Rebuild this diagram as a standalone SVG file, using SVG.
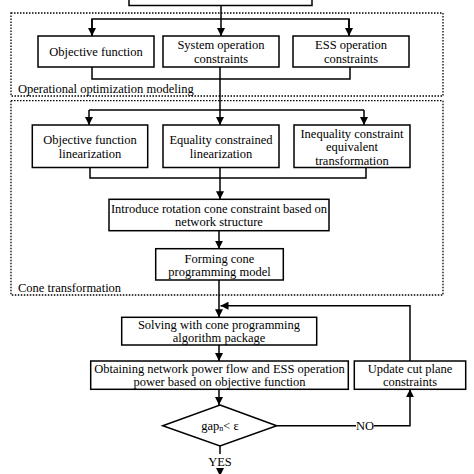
<svg xmlns="http://www.w3.org/2000/svg" width="474" height="474" viewBox="0 0 474 474">
<style>
.box{fill:#fff;stroke:#000;stroke-width:1.5}
.grp{fill:none;stroke:#000;stroke-width:1.3;stroke-dasharray:1.5 1.5}
.ln{fill:none;stroke:#000;stroke-width:1.5}
.arr{fill:none;stroke:#000;stroke-width:1.5;marker-end:url(#ah)}
text{font-family:"Liberation Serif","Times New Roman",serif;font-size:12.5px;fill:#000;text-anchor:middle}
.lbl{text-anchor:start}
</style>
<defs>
<marker id="ah" viewBox="0 0 10 10" refX="10" refY="5" markerWidth="8" markerHeight="8" markerUnits="userSpaceOnUse" orient="auto">
<path d="M0,0 L10,5 L0,10 Z" fill="#000"/>
</marker>
</defs>
<rect x="0" y="0" width="474" height="474" fill="#fff"/>
<g id="group-modeling">
<rect class="grp" x="11" y="13" width="432" height="83"/>
<text class="lbl" x="18" y="92.5">Operational optimization modeling</text>
</g>
<g id="group-cone">
<rect class="grp" x="11" y="100.7" width="432" height="194.3"/>
<text class="lbl" x="18" y="292">Cone transformation</text>
</g>
<g id="connectors">
<line class="arr" x1="221" y1="5.5" x2="221" y2="36"/>
<polyline class="ln" points="92,36 92,19 349,19 349,36"/>
<line class="arr" x1="92" y1="19" x2="92" y2="36"/>
<line class="arr" x1="349" y1="19" x2="349" y2="36"/>
<polyline class="ln" points="92,67 92,79 350,79 350,67"/>
<line class="arr" x1="220" y1="67" x2="220" y2="125"/>
<line class="ln" x1="89" y1="110" x2="364" y2="110"/>
<line class="arr" x1="89" y1="110" x2="89" y2="125"/>
<line class="arr" x1="364" y1="110" x2="364" y2="125"/>
<polyline class="ln" points="90,167.5 90,178 366,178 366,167.5"/>
<line class="arr" x1="220" y1="167.5" x2="220" y2="199.3"/>
<line class="arr" x1="219" y1="230.7" x2="219" y2="248.7"/>
<line class="arr" x1="219" y1="280" x2="219" y2="317.3"/>
<polyline class="arr" points="410,361 410,305.7 220.5,305.7"/>
<line class="arr" x1="219" y1="345" x2="219" y2="361"/>
<line class="arr" x1="219" y1="389.3" x2="219" y2="405"/>
<line class="ln" x1="276.7" y1="425.7" x2="356" y2="425.7"/>
<polyline class="arr" points="374,425.7 410,425.7 410,389.3"/>
<text x="365" y="430">NO</text>
<line class="ln" x1="220" y1="446" x2="220" y2="454"/>
<text x="220" y="466">YES</text>
<line class="arr" x1="220" y1="468" x2="220" y2="476"/>
</g>
<g id="node-top">
<rect class="box" x="129" y="-20" width="183" height="25.5"/>
</g>
<g id="node-objective">
<rect class="box" x="38" y="36" width="116" height="31"/>
<text x="96" y="56">Objective function</text>
</g>
<g id="node-system">
<rect class="box" x="163" y="36" width="116" height="31"/>
<text x="221" y="49">System operation</text>
<text x="221" y="62.5">constraints</text>
</g>
<g id="node-ess">
<rect class="box" x="293" y="36" width="116" height="31"/>
<text x="351" y="49">ESS operation</text>
<text x="351" y="62.5">constraints</text>
</g>
<g id="node-obj-lin">
<rect class="box" x="32.3" y="125" width="115.4" height="42.5"/>
<text x="90" y="144">Objective function</text>
<text x="90" y="157.5">linearization</text>
</g>
<g id="node-eq-lin">
<rect class="box" x="163" y="125" width="116" height="42.5"/>
<text x="221" y="144">Equality constrained</text>
<text x="221" y="157.5">linearization</text>
</g>
<g id="node-ineq">
<rect class="box" x="294" y="125" width="116" height="42.5"/>
<text x="352" y="137.5">Inequality constraint</text>
<text x="352" y="151">equivalent</text>
<text x="352" y="164.5">transformation</text>
</g>
<g id="node-rotation">
<rect class="box" x="109" y="199.3" width="220" height="31.4"/>
<text x="219" y="213">Introduce rotation cone constraint based on</text>
<text x="219" y="226">network structure</text>
</g>
<g id="node-forming">
<rect class="box" x="155.7" y="248.7" width="127.6" height="31.3"/>
<text x="219.5" y="262.5">Forming cone</text>
<text x="219.5" y="276">programming model</text>
</g>
<g id="node-solving">
<rect class="box" x="121.7" y="317.3" width="195" height="27.7"/>
<text x="219" y="329">Solving with cone programming</text>
<text x="219" y="342">algorithm package</text>
</g>
<g id="node-obtaining">
<rect class="box" x="90.7" y="361" width="257.6" height="28.3"/>
<text x="219.5" y="373">Obtaining network power flow and ESS operation</text>
<text x="219.5" y="386">power based on objective function</text>
</g>
<g id="node-update">
<rect class="box" x="354.3" y="361" width="111.4" height="28.3"/>
<text x="410" y="373">Update cut plane</text>
<text x="410" y="386">constraints</text>
</g>
<g id="node-decision">
<polygon class="box" points="220,405 276.7,425.7 220,446 162.7,425.7"/>
<text x="220" y="430">gap<tspan font-size="8" dy="1">n</tspan><tspan dy="-1">&lt; ε</tspan></text>
</g>
</svg>
